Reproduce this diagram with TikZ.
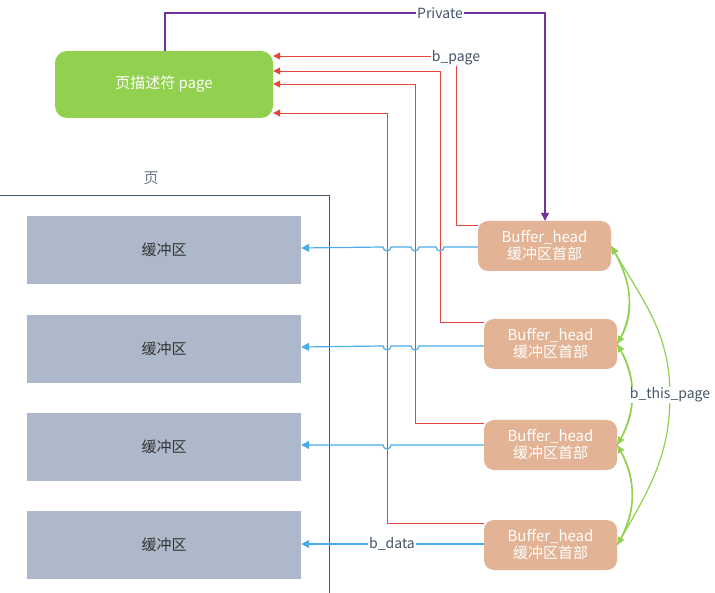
\documentclass[tikz,border=0pt]{standalone}
\usepackage{fontspec}
\setmainfont{Noto Sans CJK SC}
\usetikzlibrary{arrows.meta}
\definecolor{pgreen}{HTML}{92D050}
\definecolor{bufc}{HTML}{ADB9CA}
\definecolor{bhc}{HTML}{E2B394}
\definecolor{redl}{HTML}{E8453C}
\definecolor{bluel}{HTML}{4DABE8}
\definecolor{purl}{HTML}{7030A0}
\definecolor{greenl}{HTML}{92D050}
\definecolor{framec}{HTML}{44546A}
\definecolor{lbl}{HTML}{44546A}
\begin{document}
\begin{tikzpicture}[x=1pt,y=-1pt,
  buf/.style={fill=bufc,draw=none,minimum width=274pt,minimum height=68pt,font=\fontsize{15}{17}\selectfont,text=black!80},
  bh/.style={fill=bhc,draw=none,rounded corners=10pt,minimum width=133pt,minimum height=50pt,text=white,align=center,font=\fontsize{15}{17}\selectfont,inner sep=1pt},
  lab/.style={fill=white,text=lbl,font=\fontsize{14}{16}\selectfont,inner sep=1pt},
  red/.style={draw=redl,line width=0.9pt,-{Triangle[length=7pt,width=7pt]}},
  blu/.style={draw=bluel,line width=1.2pt,-{Triangle[length=8pt,width=8pt]}},
  grn/.style={draw=greenl,line width=1.2pt,-{Triangle[length=8pt,width=7pt]}}]
\useasboundingbox (0,0) rectangle (715,593);
\node[fill=pgreen,rounded corners=12pt,minimum width=218pt,minimum height=67pt,text=white,font=\fontsize{15}{17}\selectfont] (page) at (164,84.5) {页描述符 page};
\draw[framec,line width=1pt] (0,196) -- (329,196) -- (329,593);
\node[text=framec!80,font=\fontsize{15}{17}\selectfont] (pl) at (151,178) {页};
\node[buf] (b1) at (164,250) {缓冲区};
\node[buf] (b2) at (164,349) {缓冲区};
\node[buf] (b3) at (164,447) {缓冲区};
\node[buf] (b4) at (164,545) {缓冲区};
\node[bh] (h1) at (544.5,246) {Buffer\_head\\缓冲区首部};
\node[bh] (h2) at (550.5,344) {Buffer\_head\\缓冲区首部};
\node[bh] (h3) at (550.5,445) {Buffer\_head\\缓冲区首部};
\node[bh] (h4) at (550.5,545) {Buffer\_head\\缓冲区首部};
% purple
\coordinate (p1) at (165,13);
\coordinate (p2) at (545,13);
\draw[purl,line width=1.2pt,-{Triangle[length=8pt,width=8pt]}] (page.north -| p1) -- (p1) -- (p2) -- (h1.north -| p2);
\node[lab] (priv) at (440,13) {Private};
% red
\draw[red] (h1.west |- 0,225) -- (456,225) -- (456,56) -- (page.east |- 0,56);
\node[lab] (bp) at (456,58) {b\_page};
\draw[red] (h2.west |- 0,322) -- (440,322) -- (440,71) -- (page.east |- 0,71);
\draw[red] (h3.west |- 0,423) -- (415,423) -- (415,84) -- (page.east |- 0,84);
\draw[red] (h4.west |- 0,523) -- (387,523) -- (387,113) -- (page.east |- 0,113);
% blue with hops
\draw[blu] (h1.west |- 0,247) -- (444,247) arc (0:180:4) -- (419,247) arc (0:180:4) -- (391,247) arc (0:180:4) -- (b1.east |- 0,248);
\draw[blu] (h2.west |- 0,346) -- (419,346) arc (0:180:4) -- (391,346) arc (0:180:4) -- (b2.east |- 0,347);
\draw[blu] (h3.west |- 0,445) -- (391,445) arc (0:180:4) -- (b3.east |- 0,445);
\draw[blu] (h4.west |- 0,544) -- (b4.east |- 0,544);
\node[lab] (bd) at (392,544) {b\_data};
% green
\foreach \a/\b in {h1/h2,h2/h3,h3/h4}{
  \draw[grn] (\a.east) to[out=-60,in=60] (\b.east);
  \draw[grn] (\b.east) to[out=60,in=-60] (\a.east);
}
\draw[grn] (h4.east) to[out=60,in=-90] (670,395) to[out=90,in=-60] (h1.east);
\node[lab] (btp) at (670,395) {b\_this\_page};
\end{tikzpicture}
\end{document}
